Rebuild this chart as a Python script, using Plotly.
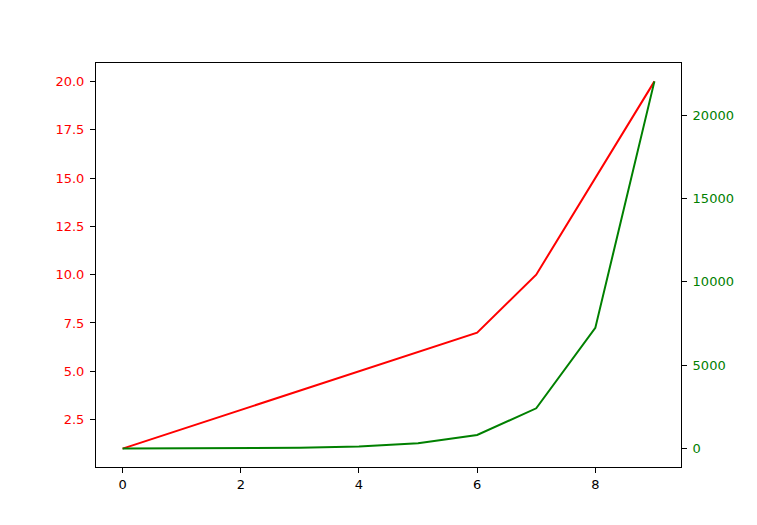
import plotly.graph_objects as go

x_vals = [0, 1, 2, 3, 4, 5, 6, 7, 8, 9]
red_vals = [1, 2, 3, 4, 5, 6, 7, 10, 15, 20]
green_vals = [3, 7, 20, 55, 130, 330, 820, 2420, 7240, 22026]

left_ticks = [2.5, 5.0, 7.5, 10.0, 12.5, 15.0, 17.5, 20.0]
right_ticks = [0, 5000, 10000, 15000, 20000]
x_ticks = [0, 2, 4, 6, 8]

fig = go.Figure()
fig.add_trace(go.Scatter(x=x_vals, y=red_vals, mode="lines",
                         line=dict(color="red", width=2), yaxis="y"))
fig.add_trace(go.Scatter(x=x_vals, y=green_vals, mode="lines",
                         line=dict(color="green", width=2), yaxis="y2"))

font = dict(family="DejaVu Sans", size=13)
fig.update_layout(
    width=757, height=525,
    margin=dict(l=88, r=84, t=55, b=66),
    paper_bgcolor="white", plot_bgcolor="white",
    showlegend=False,
    font=font,
    xaxis=dict(range=[-0.45, 9.45], tickvals=x_ticks, ticktext=[str(v) for v in x_ticks],
               showgrid=False, zeroline=False, showline=True, linecolor="black",
               linewidth=1, mirror=True, ticks="outside", ticklen=5, tickcolor="black",
               tickfont=dict(color="black", family="DejaVu Sans", size=13)),
    yaxis=dict(range=[0.05, 20.95], tickvals=left_ticks,
               ticktext=[f"{v:.1f}" for v in left_ticks],
               showgrid=False, zeroline=False, showline=True, linecolor="black",
               linewidth=1, ticks="outside", ticklen=5, tickcolor="black",
               ticklabelstandoff=3,
               tickfont=dict(color="red", family="DejaVu Sans", size=13)),
    yaxis2=dict(range=[-1101, 23127], tickvals=right_ticks,
                ticktext=[str(v) for v in right_ticks],
                overlaying="y", side="right",
                showgrid=False, zeroline=False, showline=True, linecolor="black",
                linewidth=1, ticks="outside", ticklen=5, tickcolor="black",
                ticklabelstandoff=3,
                tickfont=dict(color="green", family="DejaVu Sans", size=13)),
)

fig.write_html("out.html")
